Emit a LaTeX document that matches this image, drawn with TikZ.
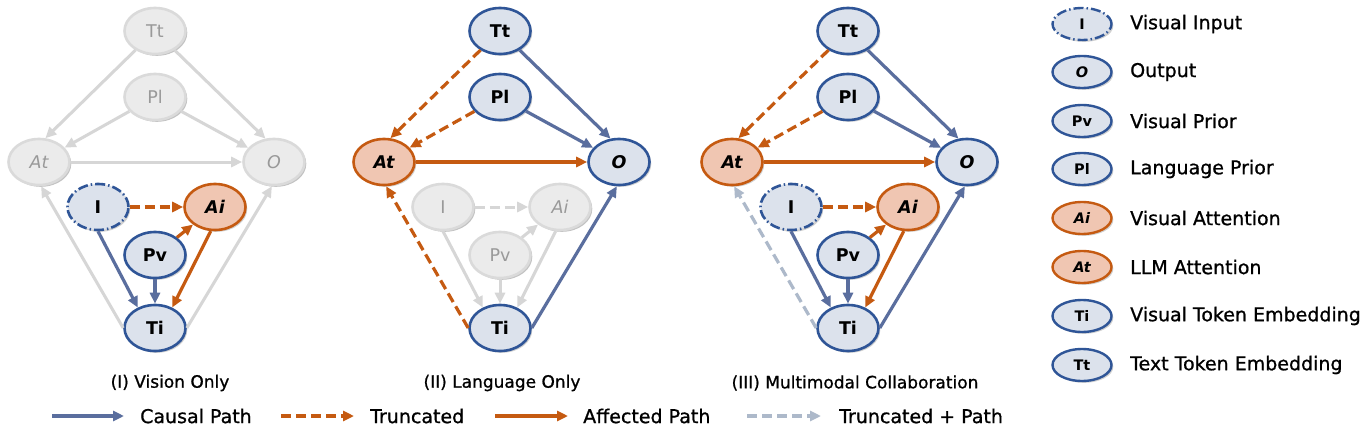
\documentclass[tikz,border=0pt]{standalone}
\usepackage{fontspec}
\setmainfont{DejaVu Sans}
\newfontfamily\heavyfont{DejaVu Sans}[FakeBold=0.9]
\usetikzlibrary{shapes.geometric,arrows.meta,shadows}
\definecolor{nodeblue}{HTML}{2F5597}
\definecolor{fillblue}{HTML}{DCE2EC}
\definecolor{arrblue}{HTML}{5A6E9E}
\definecolor{orng}{HTML}{C55A11}
\definecolor{fillorng}{HTML}{F0C6B2}
\definecolor{greyfill}{HTML}{EBEBEB}
\definecolor{greyline}{HTML}{DADADA}
\definecolor{greytext}{HTML}{999999}
\definecolor{greyarr}{HTML}{D6D6D6}
\definecolor{tpath}{HTML}{ADB9CA}
\tikzset{
  nd/.style={ellipse, minimum width=61pt, minimum height=46pt, inner sep=0pt, line width=2.6pt,
    font=\fontsize{17.5}{17.5}\selectfont\bfseries,
    drop shadow={shadow xshift=1.8pt, shadow yshift=-1.8pt, fill=black, opacity=0.18}},
  bn/.style={nd, draw=nodeblue, fill=fillblue},
  onode/.style={nd, draw=orng, fill=fillorng},
  gn/.style={nd, draw=greyline, fill=greyfill, text=greytext, font=\fontsize{17.5}{17.5}\selectfont,
    drop shadow={shadow xshift=1.8pt, shadow yshift=-1.8pt, fill=black, opacity=0.07}},
  inp/.style={bn, dash pattern=on 10pt off 3pt on 1.5pt off 3pt},
  it/.style={font=\fontsize{17.5}{17.5}\selectfont\bfseries\itshape},
  git/.style={font=\fontsize{17.5}{17.5}\selectfont\itshape},
  lg/.style={minimum width=59pt, minimum height=32pt, line width=2.4pt, font=\fontsize{14.5}{14.5}\selectfont\bfseries},
  lgit/.style={minimum width=59pt, minimum height=32pt, line width=2.4pt, font=\fontsize{14.5}{14.5}\selectfont\bfseries\itshape},
  lgtext/.style={anchor=west, inner sep=0pt, font=\heavyfont\fontsize{19}{19}\selectfont},
  captext/.style={inner sep=0pt, font=\heavyfont\fontsize{17}{17}\selectfont},
  tip/.style={-{Triangle[length=11pt,width=10pt]}},
  causal/.style={tip, draw=arrblue, line width=3.2pt},
  trunc/.style={tip, draw=orng, line width=3.2pt, dash pattern=on 10pt off 5pt},
  affect/.style={tip, draw=orng, line width=3.2pt},
  greyedge/.style={tip, draw=greyarr, line width=3pt},
  greydash/.style={tip, draw=greyarr, line width=3pt, dash pattern=on 10pt off 5pt},
  tplus/.style={tip, draw=tpath, line width=3.2pt, dash pattern=on 10pt off 5pt},
}
\begin{document}
\begin{tikzpicture}[x=1pt,y=-1pt]
\useasboundingbox[fill=white] (0,0) rectangle (1364,433);

% ---------- Panel I : Vision Only ----------
\node[gn] (aTt) at (155,31) {Tt};
\node[gn] (aPl) at (155,97) {Pl};
\node[gn,git] (aAt) at (39,162) {At};
\node[gn,git] (aO) at (274,162) {O};
\node[inp] (aI) at (98,207) {I};
\node[onode,it] (aAi) at (215,207) {Ai};
\node[bn] (aPv) at (155,255) {Pv};
\node[bn] (aTi) at (155,328) {Ti};
\draw[greyedge] (aTt) -- (aAt.75);
\draw[greyedge] (aTt) -- (aO.110);
\draw[greyedge] (aPl) -- (aAt);
\draw[greyedge] (aPl) -- (aO);
\draw[greyedge] (aAt) -- (aO);
\draw[greyedge] (aTi.west) -- (aAt.-85);
\draw[greyedge] (aTi.east) -- (aO.-95);
\draw[trunc] (aI) -- (aAi);
\draw[affect] (aPv) -- (aAi);
\draw[causal] (aI.south) -- (aTi.130);
\draw[causal] (aPv) -- (aTi);
\draw[affect] (aAi.-100) -- (aTi.50);
\node[captext] (capA) at (170,383) {(I) Vision Only};

% ---------- Panel II : Language Only ----------
\node[bn] (bTt) at (500,31) {Tt};
\node[bn] (bPl) at (500,97) {Pl};
\node[onode,it] (bAt) at (384,162) {At};
\node[bn,it] (bO) at (619,162) {O};
\node[gn] (bI) at (443,207) {I};
\node[gn,git] (bAi) at (560,207) {Ai};
\node[gn] (bPv) at (500,255) {Pv};
\node[bn] (bTi) at (500,328) {Ti};
\draw[trunc] (bTt) -- (bAt.75);
\draw[causal] (bTt) -- (bO.110);
\draw[trunc] (bPl) -- (bAt);
\draw[causal] (bPl) -- (bO);
\draw[affect] (bAt) -- (bO);
\draw[trunc] (bTi.west) -- (bAt.-85);
\draw[causal] (bTi.east) -- (bO.-95);
\draw[greydash] (bI) -- (bAi);
\draw[greyedge] (bPv) -- (bAi);
\draw[greyedge] (bI.south) -- (bTi.130);
\draw[greyedge] (bPv) -- (bTi);
\draw[greyedge] (bAi.-100) -- (bTi.50);
\node[captext] (capB) at (502,383) {(II) Language Only};

% ---------- Panel III : Multimodal Collaboration ----------
\node[bn] (cTt) at (848,31) {Tt};
\node[bn] (cPl) at (848,97) {Pl};
\node[onode,it] (cAt) at (732,162) {At};
\node[bn,it] (cO) at (967,162) {O};
\node[inp] (cI) at (791,207) {I};
\node[onode,it] (cAi) at (908,207) {Ai};
\node[bn] (cPv) at (848,255) {Pv};
\node[bn] (cTi) at (848,328) {Ti};
\draw[trunc] (cTt) -- (cAt.75);
\draw[causal] (cTt) -- (cO.110);
\draw[trunc] (cPl) -- (cAt);
\draw[causal] (cPl) -- (cO);
\draw[affect] (cAt) -- (cO);
\draw[tplus] (cTi.west) -- (cAt.-85);
\draw[causal] (cTi.east) -- (cO.-95);
\draw[trunc] (cI) -- (cAi);
\draw[affect] (cPv) -- (cAi);
\draw[causal] (cI.south) -- (cTi.130);
\draw[causal] (cPv) -- (cTi);
\draw[affect] (cAi.-100) -- (cTi.50);
\node[captext] (capC) at (855,383) {(III) Multimodal Collaboration};

% ---------- Right legend ----------
\node[inp,lg] (lI) at (1082,24) {I};
\node[lgtext] (tI) at (1130,24) {Visual Input};
\node[bn,lgit] (lO) at (1082,72) {O};
\node[lgtext] (tO) at (1130,72) {Output};
\node[bn,lg] (lPv) at (1082,121) {Pv};
\node[lgtext] (tPv) at (1130,121) {Visual Prior};
\node[bn,lg] (lPl) at (1082,169) {Pl};
\node[lgtext] (tPl) at (1130,169) {Language Prior};
\node[onode,lgit] (lAi) at (1082,218) {Ai};
\node[lgtext] (tAi) at (1130,218) {Visual Attention};
\node[onode,lgit] (lAt) at (1082,267) {At};
\node[lgtext] (tAt) at (1130,267) {LLM Attention};
\node[bn,lg] (lTi) at (1082,316) {Ti};
\node[lgtext] (tTi) at (1130,316) {Visual Token Embedding};
\node[bn,lg] (lTt) at (1082,365) {Tt};
\node[lgtext] (tTt) at (1130,365) {Text Token Embedding};

% ---------- Bottom legend ----------
\coordinate (k1s) at (52,416);  \coordinate (k1e) at (124,416);
\coordinate (k2s) at (281,416); \coordinate (k2e) at (354,416);
\coordinate (k3s) at (495,416); \coordinate (k3e) at (568,416);
\coordinate (k4s) at (747,416); \coordinate (k4e) at (821,416);
\draw[causal] (k1s) -- (k1e);
\draw[trunc] (k2s) -- (k2e);
\draw[affect] (k3s) -- (k3e);
\draw[tplus] (k4s) -- (k4e);
\node[lgtext] (t1) at (140,416) {Causal Path};
\node[lgtext] (t2) at (370,416) {Truncated};
\node[lgtext] (t3) at (583,416) {Affected Path};
\node[lgtext] (t4) at (839,416) {Truncated + Path};
\end{tikzpicture}
\end{document}
